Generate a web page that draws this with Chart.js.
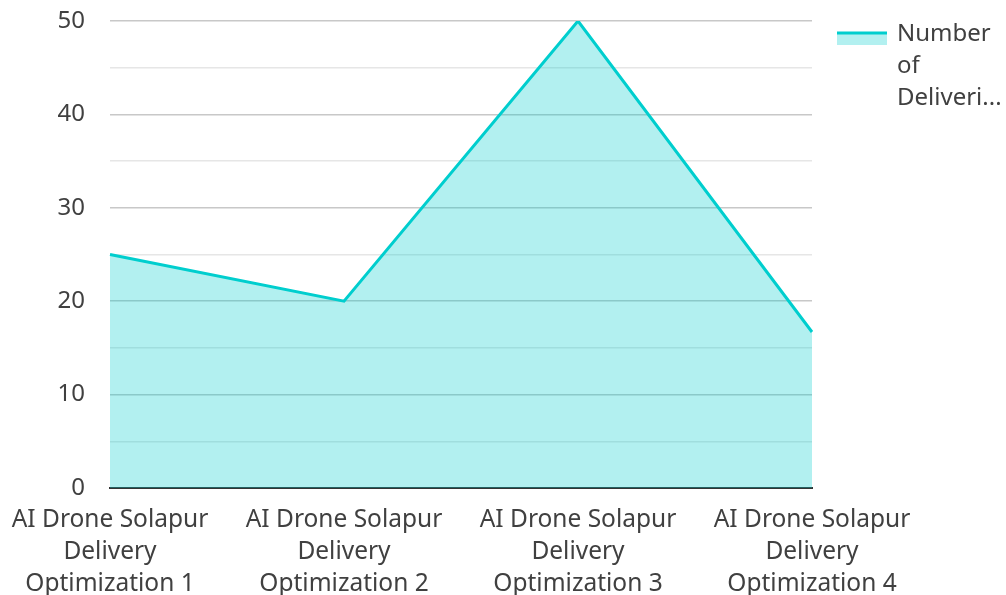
<!DOCTYPE html>
<html>
<head>
<meta charset="utf-8">
<script src="https://cdn.jsdelivr.net/npm/chart.js@4"></script>
<style>
  html, body { margin: 0; padding: 0; background: #fff; }
  #wrap { width: 1006px; height: 595px; position: relative; }
</style>
</head>
<body>
<div id="wrap"><canvas id="myChart"></canvas></div>
<script>
const LINE_COLOR = "rgb(0,206,206)";
const FILL_COLOR = "rgba(0,206,206,0.3)";
const TEXT_COLOR = "#404040";
const FONT_FAMILY = "'Noto Sans', 'Open Sans', sans-serif";

const categories = [
    ["AI Drone Solapur", "Delivery", "Optimization 1"],
    ["AI Drone Solapur", "Delivery", "Optimization 2"],
    ["AI Drone Solapur", "Delivery", "Optimization 3"],
    ["AI Drone Solapur", "Delivery", "Optimization 4"]
];
const deliveries = [25, 20, 50, 16.7];
const seriesLabel = ["Number", "of", "Deliveri..."];

// Legend drawn by hand so the label can wrap over several lines.
const sideLegend = {
    id: 'sideLegend',
    afterDraw(chart) {
        const ctx = chart.ctx;
        const x = chart.chartArea.right + 25;
        const y = 33;
        ctx.save();
        ctx.fillStyle = FILL_COLOR;
        ctx.fillRect(x, y, 50, 12);
        ctx.strokeStyle = LINE_COLOR;
        ctx.lineWidth = 3;
        ctx.beginPath();
        ctx.moveTo(x, y);
        ctx.lineTo(x + 50, y);
        ctx.stroke();
        ctx.fillStyle = TEXT_COLOR;
        ctx.font = "24px " + FONT_FAMILY;
        ctx.textBaseline = "middle";
        seriesLabel.forEach((line, i) => {
            ctx.fillText(line, x + 60, y + 1 + i * 32);
        });
        ctx.restore();
    }
};

chart = new Chart(document.getElementById("myChart"), {
    type: "line",
    data: {
        labels: categories,
        datasets: [{
            label: seriesLabel.join(" "),
            data: deliveries,
            fill: 'origin',
            backgroundColor: FILL_COLOR,
            borderColor: LINE_COLOR,
            borderWidth: 3,
            pointRadius: 0,
            tension: 0
        }]
    },
    options: {
        responsive: true,
        maintainAspectRatio: false,
        animation: false,
        layout: {
            padding: { top: 21, right: 194, left: 0, bottom: 0 }
        },
        scales: {
            x: {
                offset: false,
                grid: { display: false },
                border: { display: true, color: "#333", width: 2 },
                afterFit: (scale) => { scale.height = 107; },
                ticks: {
                    color: TEXT_COLOR,
                    maxRotation: 0,
                    autoSkip: false,
                    padding: 8,
                    font: { family: FONT_FAMILY, size: 24.5, lineHeight: 1.3 }
                }
            },
            y: {
                min: 0,
                max: 50,
                afterFit: (scale) => {
                    scale.width = 110;
                    scale.paddingTop = 0;
                    scale.paddingBottom = 0;
                },
                border: { display: false },
                grid: {
                    drawTicks: false,
                    color: (c) => (c.tick && c.tick.value % 10 === 0) ? "#c8c8c8" : "#e6e6e6",
                    lineWidth: 1.5
                },
                ticks: {
                    stepSize: 5,
                    padding: 25,
                    color: TEXT_COLOR,
                    font: { family: FONT_FAMILY, size: 24 },
                    callback: (v) => (v % 10 === 0 ? v : "")
                }
            }
        },
        plugins: {
            legend: { display: false },
            tooltip: { enabled: false }
        }
    },
    plugins: [sideLegend]
});
</script>
</body>
</html>
